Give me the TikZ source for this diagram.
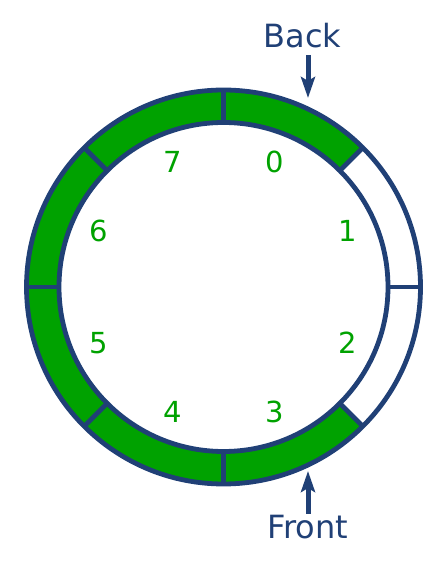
\documentclass[tikz,border=0pt]{standalone}
\usepackage{fontspec}
\setmainfont{DejaVu Sans}
\usetikzlibrary{arrows.meta,calc}
\definecolor{ringblue}{RGB}{32,64,118}
\definecolor{slotgreen}{RGB}{0,162,0}
\tikzset{
  ring/.style={draw=ringblue, line width=4.8pt},
  slotnum/.style={text=slotgreen, font=\fontsize{29}{34}\selectfont, inner sep=0pt},
  endlabel/.style={text=ringblue, font=\fontsize{32}{38}\selectfont, inner sep=0pt, anchor=base},
  pointer/.style={draw=ringblue, line width=5pt, -{Stealth[length=21pt,width=14pt,inset=4pt]}}
}
\begin{document}
\begin{tikzpicture}[x=1pt,y=1pt]
\useasboundingbox (0,0) rectangle (447,565);
\coordinate (c) at (223.5,278);
% green filled slots (3,4,5,6,7,0)
\fill[slotgreen] ($(c)+(45:197)$) arc[start angle=45,end angle=315,radius=197]
  -- ($(c)+(315:164.5)$) arc[start angle=315,end angle=45,radius=164.5] -- cycle;
% ring outlines
\draw[ring] (c) circle[radius=197];
\draw[ring] (c) circle[radius=164.5];
\foreach \a in {0,45,...,315}{
  \draw[ring] ($(c)+(\a:164.5)$) -- ($(c)+(\a:197)$);
}
% slot numbers
\foreach \n/\a/\r in {0/67.8/135,1/24.2/136.5,2/-24.2/136.5,3/-67.8/135,4/-112.2/135,5/-155.8/136.5,6/155.8/136.5,7/112.2/135}{
  \node[slotnum] (s\n) at ($(c)+(\a:\r)$) {\n};
}
% labels and pointers
\node[endlabel] (back) at (302.5,517) {Back};
\node[endlabel] (front) at (307.5,27) {Front};
\coordinate (backstart) at (308,510);
\coordinate (backend) at (308,467);
\coordinate (frontstart) at (308,51);
\coordinate (frontend) at (308,94);
\draw[pointer] (backstart) -- (backend);
\draw[pointer] (frontstart) -- (frontend);
\end{tikzpicture}
\end{document}
